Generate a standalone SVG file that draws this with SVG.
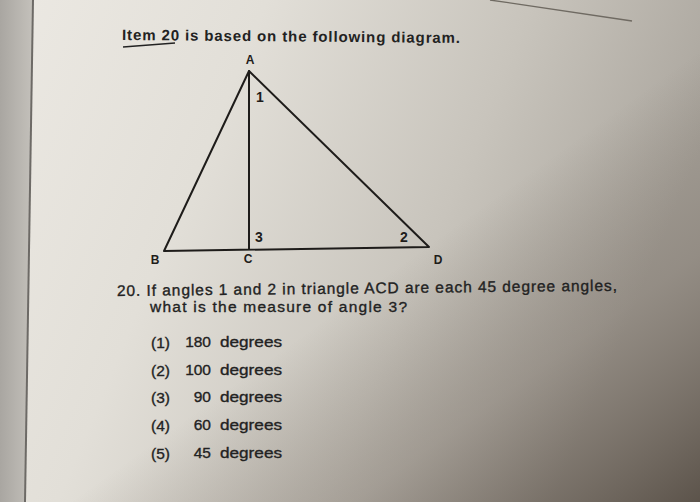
<svg xmlns="http://www.w3.org/2000/svg" width="700" height="502" viewBox="0 0 700 502">
<defs>
<linearGradient id="paper" x1="0" y1="0" x2="1" y2="0.3">
<stop offset="0" stop-color="#ece9e3"/>
<stop offset="0.35" stop-color="#e2dfd8"/>
<stop offset="0.7" stop-color="#c8c4bc"/>
<stop offset="1" stop-color="#aaa59d"/>
</linearGradient>
<linearGradient id="shade" x1="0.55" y1="0.55" x2="1" y2="1">
<stop offset="0" stop-color="#5a5046" stop-opacity="0"/>
<stop offset="0.45" stop-color="#6a6057" stop-opacity="0.35"/>
<stop offset="1" stop-color="#4e453c" stop-opacity="0.85"/>
</linearGradient>
<linearGradient id="band" x1="0" y1="0" x2="1" y2="0">
<stop offset="0" stop-color="#a9a6a1"/>
<stop offset="1" stop-color="#c4c1bb"/>
</linearGradient>
<style>
.ln{stroke:#1e1c1a;stroke-width:2;fill:none;stroke-linecap:round;stroke-linejoin:round}
.lb{font-family:"Liberation Sans",Arial,sans-serif;font-weight:bold;font-size:12px;fill:#1e1c1a;text-anchor:middle}
.nm{font-family:"Liberation Sans",Arial,sans-serif;font-weight:bold;font-size:14px;fill:#1e1c1a;text-anchor:middle}
.tx{font-family:"Liberation Sans",Arial,sans-serif;font-size:15.5px;fill:#222;stroke:#222;stroke-width:0.35}
.ti{font-family:"Liberation Sans",Arial,sans-serif;font-weight:bold;font-size:15px;fill:#222}
</style>
</defs>
<rect width="700" height="502" fill="url(#paper)"/>
<rect width="700" height="502" fill="url(#shade)"/>
<polygon points="0,0 33,0 25,502 0,502" fill="url(#band)"/>
<line x1="33" y1="0" x2="25" y2="502" stroke="#6d6a66" stroke-width="2"/>
<line x1="490" y1="0" x2="632" y2="21" stroke="#6f6a62" stroke-width="1.3"/>

<g id="title">
<text class="ti" x="122" y="40" textLength="338" lengthAdjust="spacing" transform="rotate(0.5 122 40)">Item 20 is based on the following diagram.</text>
<line x1="123" y1="47" x2="175" y2="43" stroke="#222" stroke-width="1.3"/>
</g>

<g id="connectors">
<polyline class="ln" points="249,71 164,251 429,247 249,71"/>
<line class="ln" x1="249" y1="71" x2="249" y2="249"/>
</g>

<g id="A"><text class="lb" x="250" y="64">A</text></g>
<g id="B"><text class="lb" x="155" y="264">B</text></g>
<g id="C"><text class="lb" x="248" y="263">C</text></g>
<g id="D"><text class="lb" x="438" y="264">D</text></g>
<g id="angle1"><text class="nm" x="260" y="102">1</text></g>
<g id="angle3"><text class="nm" x="259" y="242">3</text></g>
<g id="angle2"><text class="nm" x="404" y="242">2</text></g>

<g id="question">
<text class="tx" x="117" y="296" textLength="500" lengthAdjust="spacing" transform="rotate(-0.6 117 296)">20. If angles 1 and 2 in triangle ACD are each 45 degree angles,</text>
<text class="tx" x="150" y="312" textLength="257" lengthAdjust="spacing">what is the measure of angle 3?</text>
</g>

<g id="answers">
<text class="tx" x="151" y="348">(1)</text>
<text class="tx" x="211" y="347" text-anchor="end">180</text>
<text class="tx" x="220" y="347" textLength="62" lengthAdjust="spacingAndGlyphs">degrees</text>
<text class="tx" x="151" y="376">(2)</text>
<text class="tx" x="211" y="375" text-anchor="end">100</text>
<text class="tx" x="220" y="375" textLength="62" lengthAdjust="spacingAndGlyphs">degrees</text>
<text class="tx" x="151" y="403">(3)</text>
<text class="tx" x="211" y="402" text-anchor="end">90</text>
<text class="tx" x="220" y="402" textLength="62" lengthAdjust="spacingAndGlyphs">degrees</text>
<text class="tx" x="151" y="431">(4)</text>
<text class="tx" x="211" y="430" text-anchor="end">60</text>
<text class="tx" x="220" y="430" textLength="62" lengthAdjust="spacingAndGlyphs">degrees</text>
<text class="tx" x="151" y="459">(5)</text>
<text class="tx" x="211" y="458" text-anchor="end">45</text>
<text class="tx" x="220" y="458" textLength="62" lengthAdjust="spacingAndGlyphs">degrees</text>
</g>
</svg>
